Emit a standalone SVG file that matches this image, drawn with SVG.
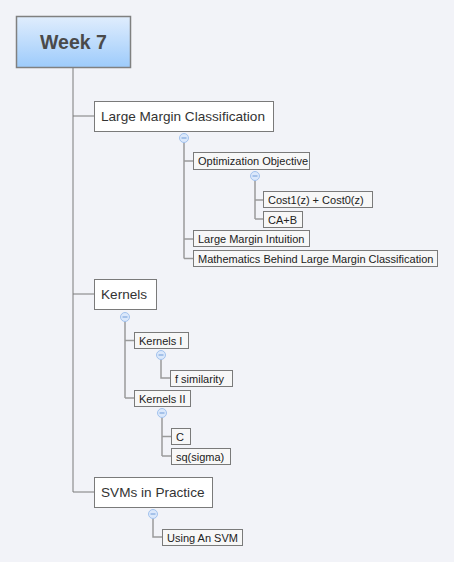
<svg xmlns="http://www.w3.org/2000/svg" width="454" height="562" viewBox="0 0 454 562">
<defs>
<linearGradient id="rootg" x1="0" y1="0" x2="0" y2="1">
<stop offset="0" stop-color="#e0edfd"/>
<stop offset="1" stop-color="#9dcbfb"/>
</linearGradient>
<g id="coll">
<circle r="4.5" fill="#dbe8fb" stroke="#a2c2ee" stroke-width="1"/>
<line x1="-2.5" y1="0" x2="2.5" y2="0" stroke="#6f9bd8" stroke-width="1"/>
</g>
</defs>
<style>
.bg{fill:#f2f3f8}
.root{fill:url(#rootg);stroke:#808080;stroke-width:1.5}
.main{fill:#ffffff;stroke:#7a7a7a;stroke-width:1}
.sub{fill:#f7f7f7;stroke:#7a7a7a;stroke-width:1}
.rt{font-family:"Liberation Sans",Arial,sans-serif;font-size:19.5px;font-weight:bold;fill:#4a4a4a}
.mt{font-family:"Liberation Sans",Arial,sans-serif;font-size:13.6px;fill:#333333}
.st{font-family:"Liberation Sans",Arial,sans-serif;font-size:11px;fill:#222222}
.l1{fill:none;stroke:#7a7a7a;stroke-width:1}
.l2{fill:none;stroke:#9a9a9a;stroke-width:1.5}
</style>
<rect class="bg" x="0" y="0" width="454" height="562"/>
<g id="connectors">
<path class="l1" d="M73 67 V492 M73 116 H94 M73 294 H94 M73 492 H94"/>
<path class="l2" d="M184 142 V258.5 M184 161 H193 M184 239 H193 M184 258.5 H193"/>
<path class="l2" d="M255 180 V219 M255 200 H263 M255 219 H263"/>
<path class="l2" d="M125 321 V398 M125 340.5 H134 M125 398 H134"/>
<path class="l2" d="M161 359 V378 H170"/>
<path class="l2" d="M162 417 V456 M162 436.5 H171 M162 456 H171"/>
<path class="l2" d="M153 518 V537 H162"/>
</g>
<g id="root">
<rect class="root" x="16.5" y="16.5" width="114" height="51"/>
<text class="rt" x="73.5" y="49" text-anchor="middle">Week 7</text>
</g>
<g id="lmc">
<rect class="main" x="94.5" y="101.5" width="179" height="30"/>
<text class="mt" x="101" y="121">Large Margin Classification</text>
<use href="#coll" x="184" y="138"/>
</g>
<g id="optobj">
<rect class="sub" x="193.5" y="152.5" width="116" height="17"/>
<text class="st" x="198" y="165">Optimization Objective</text>
<use href="#coll" x="255" y="176"/>
</g>
<g id="cost">
<rect class="sub" x="263.5" y="191.5" width="109" height="16"/>
<text class="st" x="268" y="203.5">Cost1(z) + Cost0(z)</text>
</g>
<g id="cab">
<rect class="sub" x="263.5" y="211.5" width="39" height="16"/>
<text class="st" x="268" y="223.5">CA+B</text>
</g>
<g id="lmi">
<rect class="sub" x="193.5" y="230.5" width="116" height="16"/>
<text class="st" x="198" y="242.5">Large Margin Intuition</text>
</g>
<g id="math">
<rect class="sub" x="193.5" y="250.5" width="244" height="16"/>
<text class="st" x="198" y="262.5">Mathematics Behind Large Margin Classification</text>
</g>
<g id="kernels">
<rect class="main" x="94.5" y="279.5" width="62" height="30"/>
<text class="mt" x="101" y="299">Kernels</text>
<use href="#coll" x="125" y="317"/>
</g>
<g id="k1">
<rect class="sub" x="134.5" y="332.5" width="54" height="16"/>
<text class="st" x="139" y="344.5">Kernels I</text>
<use href="#coll" x="161" y="355"/>
</g>
<g id="fsim">
<rect class="sub" x="170.5" y="370.5" width="62" height="16"/>
<text class="st" x="175" y="382.5">f similarity</text>
</g>
<g id="k2">
<rect class="sub" x="134.5" y="390.5" width="56" height="16"/>
<text class="st" x="139" y="402.5">Kernels II</text>
<use href="#coll" x="162" y="413"/>
</g>
<g id="c">
<rect class="sub" x="171.5" y="428.5" width="19" height="16"/>
<text class="st" x="176" y="440.5">C</text>
</g>
<g id="sq">
<rect class="sub" x="171.5" y="448.5" width="59" height="16"/>
<text class="st" x="176" y="460.5">sq(sigma)</text>
</g>
<g id="svm">
<rect class="main" x="94.5" y="477.5" width="118" height="30"/>
<text class="mt" x="101" y="497">SVMs in Practice</text>
<use href="#coll" x="153" y="514"/>
</g>
<g id="using">
<rect class="sub" x="162.5" y="529.5" width="80" height="16"/>
<text class="st" x="167" y="541.5">Using An SVM</text>
</g>
</svg>
